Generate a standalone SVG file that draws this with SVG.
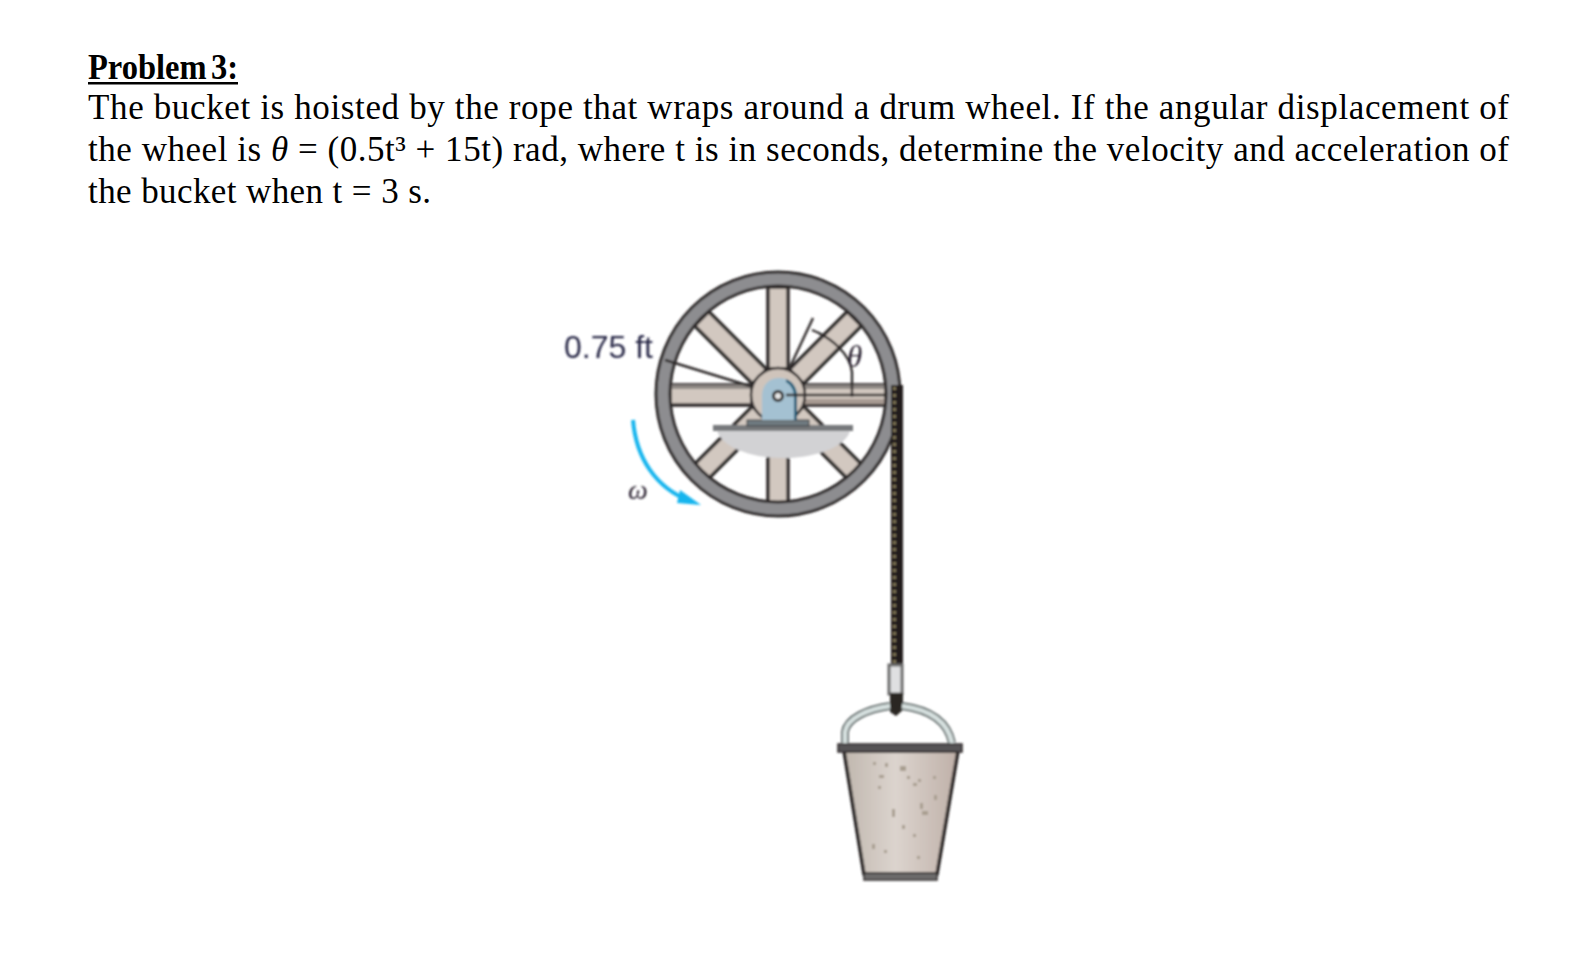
<svg xmlns="http://www.w3.org/2000/svg" width="1576" height="964" viewBox="0 0 1576 964">
<style>
.t{font-family:"Liberation Serif","Times New Roman",serif;font-size:35px;fill:#000}
.spk{fill:#d2c8c0;stroke:#2e2a2a;stroke-width:3.5}
.dim{fill:none;stroke:#2e2a2a;stroke-width:2.4}
.lab{font-family:"Liberation Sans",Arial,sans-serif;font-size:32px;fill:#2b2b4a}
.gk{font-family:"Liberation Serif","Times New Roman",serif;font-style:italic;fill:#2b2230}
</style>
<defs>
<filter id="soft" x="-5%" y="-5%" width="110%" height="110%"><feGaussianBlur stdDeviation="0.8"/></filter>
<linearGradient id="bk" x1="0" x2="1" y1="0" y2="0"><stop offset="0" stop-color="#c0b7ae"/><stop offset="0.45" stop-color="#dcd4ce"/><stop offset="1" stop-color="#bfb0a8"/></linearGradient>
<pattern id="rp" width="12" height="7" patternUnits="userSpaceOnUse"><rect width="12" height="7" fill="#221e1c"/><rect x="5" y="2" width="3" height="3" fill="#7d7355"/></pattern>
<g id="spokeShape"><rect class="spk" x="-10" y="-108" width="20" height="82"/></g>
</defs>
<rect width="1576" height="964" fill="#fff"/>
<g id="problem-text">
<text class="t" x="88" y="79" font-weight="700" word-spacing="-4" textLength="150" lengthAdjust="spacingAndGlyphs">Problem 3:</text>
<rect x="88" y="82" width="150" height="2.5" fill="#000"/>
<text class="t" x="88" y="119" textLength="1421" lengthAdjust="spacing">The bucket is hoisted by the rope that wraps around a drum wheel. If the angular displacement of</text>
<text class="t" x="88" y="161" textLength="1421" lengthAdjust="spacing">the wheel is <tspan font-style="italic">θ</tspan> = (0.5t³ + 15t) rad, where t is in seconds, determine the velocity and acceleration of</text>
<text class="t" x="88" y="203" textLength="343" lengthAdjust="spacing">the bucket when t = 3 s.</text>
</g>
<g id="figure" filter="url(#soft)">
<g id="wheel">
<use href="#spokeShape" transform="translate(778,395)"/>
<use href="#spokeShape" transform="translate(778,395) rotate(45)"/>
<use href="#spokeShape" transform="translate(778,395) rotate(90)"/>
<use href="#spokeShape" transform="translate(778,395) rotate(135)"/>
<use href="#spokeShape" transform="translate(778,395) rotate(180)"/>
<use href="#spokeShape" transform="translate(778,395) rotate(225)"/>
<use href="#spokeShape" transform="translate(778,395) rotate(270)"/>
<use href="#spokeShape" transform="translate(778,395) rotate(315)"/>
<rect x="667" y="385" width="85" height="4" fill="#8f8985"/>
<rect x="805" y="385" width="82" height="4" fill="#8f8985"/>
<rect x="805" y="399" width="82" height="5" fill="#a79a92"/>
<circle cx="778" cy="394" r="115" fill="none" stroke="#2e2a2a" stroke-width="17"/>
<circle cx="778" cy="394" r="115" fill="none" stroke="#8d8d90" stroke-width="11"/>
<circle cx="778" cy="395" r="27" fill="#cfc4bb" stroke="#2e2a2a" stroke-width="2.5"/>
</g>
<g id="support">
<path d="M717 431H850C846 446 818 458 783 458C748 458 722 446 717 431Z" fill="#d2d2d4"/>
<rect x="713" y="425" width="140" height="6" fill="#77797c"/>
<rect x="747" y="420" width="62" height="6" fill="#6f7a80" stroke="#3a3a3a" stroke-width="1"/>
<path d="M762 420V396C762 385 769 378 779 378C790 378 797 385 797 396V420Z" fill="#a4c1d2"/>
<path d="M786 379C793 382 797 388 797 396V420H794V396C794 390 791 385 786 382Z" fill="#1f5d78"/>
<circle cx="778" cy="396" r="4.5" fill="#e8e8e8" stroke="#2e2a2a" stroke-width="3"/>
</g>
<g id="dimensions">
<path class="dim" d="M665 360L753 387"/>
<path class="dim" d="M790 367L813 318"/>
<path class="dim" d="M812 330C832 338 850 354 852 372V397"/>
<path class="dim" d="M786 395H887"/>
<text class="lab" x="564" y="358" textLength="89" lengthAdjust="spacingAndGlyphs">0.75 ft</text>
<text class="gk" x="847" y="367" font-size="31">θ</text>
<text class="gk" x="628" y="499" font-size="28">ω</text>
<path d="M633 420C636 458 656 488 690 501" fill="none" stroke="#19b5ee" stroke-width="4"/>
<path d="M680 490L701 505L677 503Z" fill="#19b5ee"/>
</g>
<g id="rope">
<rect x="891" y="385" width="12" height="281" fill="url(#rp)"/>
<rect x="889" y="665" width="13" height="29" fill="#dfe0e1" stroke="#6a6a6a" stroke-width="3"/>
<path d="M890 693H903V710L896 716L890 712Z" fill="#2a2523"/>
</g>
<g id="bucket">
<path d="M845 743V732C847 718 868 709 890 706M902 706C925 709 947 718 952 743" fill="none" stroke="#66706f" stroke-width="8"/>
<path d="M845 743V732C847 718 868 709 890 706M902 706C925 709 947 718 952 743" fill="none" stroke="#d6e0df" stroke-width="4.5"/>
<path d="M844 751H958L937 874H864Z" fill="url(#bk)" stroke="#262323" stroke-width="3.5"/>
<rect x="838" y="744" width="124" height="8" fill="#555254" stroke="#2e2a2a" stroke-width="1.5"/>
<rect x="864" y="873" width="73" height="7" fill="#6c6a6b" stroke="#2e2a2a" stroke-width="1.5"/>
<g fill="#a89e90"><rect x="873" y="762" width="3" height="3"/><rect x="885" y="763" width="3" height="4"/><rect x="879" y="775" width="5" height="3"/><rect x="878" y="786" width="3" height="3"/><rect x="900" y="766" width="6" height="5"/><rect x="907" y="776" width="3" height="3"/><rect x="918" y="779" width="3" height="3"/><rect x="913" y="783" width="4" height="3"/><rect x="933" y="776" width="3" height="3"/><rect x="934" y="795" width="3" height="5"/><rect x="920" y="803" width="3" height="6"/><rect x="922" y="811" width="6" height="4"/><rect x="892" y="809" width="3" height="8"/><rect x="902" y="825" width="3" height="4"/><rect x="913" y="834" width="3" height="3"/><rect x="872" y="844" width="3" height="5"/><rect x="884" y="850" width="3" height="3"/><rect x="917" y="856" width="3" height="3"/></g>
</g>
</g>
</svg>
